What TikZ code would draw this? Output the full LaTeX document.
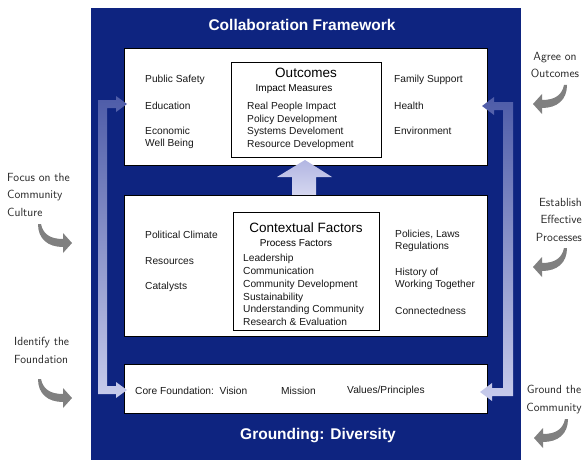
\documentclass[tikz,border=0pt]{standalone}
\usepackage{fontspec}
\setmainfont{Liberation Sans}
\definecolor{navy}{RGB}{14,36,128}
\definecolor{arrgray}{RGB}{128,128,128}
\definecolor{bartop}{RGB}{78,92,168}
\definecolor{barbot}{RGB}{200,204,236}
\definecolor{uptop}{RGB}{178,182,226}
\definecolor{upbot}{RGB}{214,216,240}
\begin{document}
\begin{tikzpicture}[x=1pt,y=-1pt,
  body/.style={font=\fontsize{10.2}{12.7}\selectfont, anchor=west, align=left, inner sep=0pt, text=black!90},
  headtxt/.style={font=\fontsize{13.5}{15}\selectfont, inner sep=0pt},
  subtxt/.style={font=\fontsize{10}{12}\selectfont, inner sep=0pt},
  titletxt/.style={font=\bfseries\fontsize{15.5}{18}\selectfont, text=white, inner sep=0pt},
  hand/.style={font=\sffamily\fontsize{11.8}{17.5}\selectfont, inner sep=0pt, text=black!85},
  whitebox/.style={draw=black, fill=white, line width=0.8pt, inner sep=0pt, anchor=north west},
  curvyR/.pic={\fill[arrgray] (0,0) -- (-9,-10) -- (-9,-4) .. controls (-22,-4) and (-29,-9) .. (-31,-19) -- (-34,-19) .. controls (-34,-4) and (-24,4) .. (-9,4) -- (-9,10) -- cycle;}
]
\useasboundingbox (0,0) rectangle (585,468);
\fill[white] (0,0) rectangle (585,468);
% frame
\fill[navy] (91,8) rectangle (521,460);
\node[titletxt] (title) at (302,25) {Collaboration Framework};
\node[titletxt] (ground) at (318,436) {Grounding: Diversity};

% top box
\node[whitebox, minimum width=363, minimum height=117] (topbox) at (124,48) {};
\node[whitebox, minimum width=150, minimum height=95] (outbox) at (231,62) {};
\node[headtxt] (outh) at (306,73) {Outcomes};
\node[subtxt] (outs) at (294,89) {Impact Measures};
\node[body] (outl) at (247,126) {Real People Impact\\Policy Development\\Systems Develoment\\Resource Development};
\node[body] (ps) at (145,80) {Public Safety};
\node[body] (ed) at (145,106) {Education};
\node[body] (ec) at (145,138) {Economic\\Well Being};
\node[body] (fs) at (394,80) {Family Support};
\node[body] (he) at (394,106) {Health};
\node[body] (en) at (394,131) {Environment};

% up arrow
\shade[top color=uptop, bottom color=upbot] (305,160) -- (332,177) -- (316,177) -- (316,196) -- (292,196) -- (292,177) -- (277,177) -- cycle;

% middle box
\node[whitebox, minimum width=363, minimum height=141] (midbox) at (124,195) {};
\node[whitebox, minimum width=146, minimum height=118] (ctxbox) at (233,212) {};
\node[headtxt] (ctxh) at (306,228) {Contextual Factors};
\node[subtxt] (ctxs) at (296,243) {Process Factors};
\node[body] (ctxl) at (243,290) {Leadership\\Communication\\Community Development\\Sustainability\\Understanding Community\\Research \& Evaluation};
\node[body] (pc) at (145,235) {Political Climate};
\node[body] (re) at (145,261) {Resources};
\node[body] (ca) at (145,287) {Catalysts};
\node[body] (pl) at (395,241) {Policies, Laws\\Regulations};
\node[body] (hi) at (395,279) {History of\\Working Together};
\node[body] (co) at (395,311) {Connectedness};

% bottom box
\node[whitebox, minimum width=363, minimum height=49] (botbox) at (124,364) {};
\node[body] (cf) at (135,391) {Core Foundation:\ \ Vision};
\node[body] (mi) at (281,391) {Mission};
\node[body] (vp) at (347,391) {Values/Principles};

% left bracket arrow
\shade[top color=bartop, bottom color=barbot]
  (98,100) -- (116,100) -- (116,96) -- (127,104) -- (116,112) -- (116,108) -- (107,108)
  -- (107,386) -- (116,386) -- (116,382) -- (127,390) -- (116,398) -- (116,394) -- (98,394) -- cycle;
% right bracket arrow
\shade[top color=bartop, bottom color=barbot]
  (513,102) -- (494,102) -- (494,97) -- (482,106) -- (494,115) -- (494,110) -- (503,110)
  -- (503,388) -- (492,388) -- (492,383) -- (480,392) -- (492,401) -- (492,396) -- (513,396) -- cycle;

% side labels
\node[hand, align=left, anchor=north west] (focus) at (7,173) {Focus on the\\Community\\Culture};
\pic at (72,243) {curvyR};
\node[hand, align=left, anchor=north west] (ident) at (14,337) {Identify the\\Foundation};
\pic at (72,398) {curvyR};
\node[hand, align=center, anchor=north] (agree) at (555,52) {Agree on\\Outcomes};
\pic[xscale=-1] at (533,104) {curvyR};
\node[hand, align=right, anchor=north east] (estab) at (582,198) {Establish\\Effective\\Processes};
\pic[xscale=-1] at (533,267) {curvyR};
\node[hand, align=center, anchor=north] (groundc) at (554,385) {Ground the\\Community};
\pic[xscale=-1] at (534,438) {curvyR};
\end{tikzpicture}
\end{document}
